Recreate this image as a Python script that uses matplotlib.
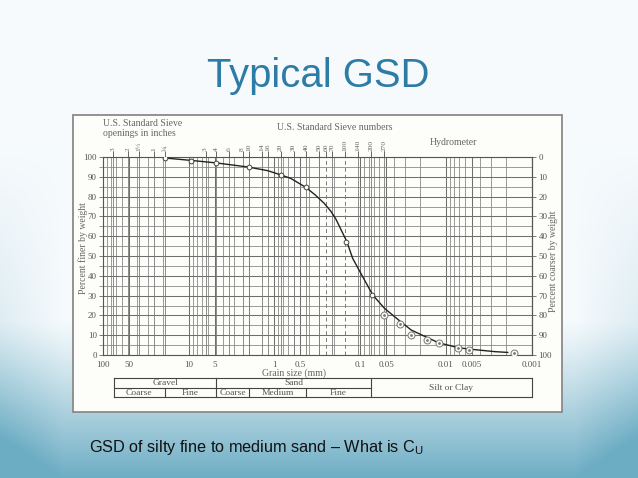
import numpy as np
import matplotlib
matplotlib.use("Agg")
import matplotlib.pyplot as plt
import matplotlib.transforms as mtransforms
from matplotlib.patches import Rectangle
from matplotlib.ticker import FixedLocator, LogLocator, MultipleLocator, NullFormatter

plt.rcParams['font.family'] = ['Liberation Serif', 'DejaVu Serif']
plt.rcParams['mathtext.fontset'] = 'custom'
plt.rcParams['mathtext.rm'] = 'Liberation Sans'
plt.rcParams['mathtext.it'] = 'Liberation Sans'

# ---------------- data ----------------
sieve_labels = ['3', '2', '1½', '1', '¾', '3', '4', '6', '8', '10', '14', '16',
                '20', '30', '40', '50', '60', '70', '100', '140', '200', '270']
sieve_sizes_mm = [76.2, 50.8, 38.1, 25.4, 19.05, 6.35, 4.75, 3.35, 2.36, 2.0, 1.4, 1.18,
                  0.85, 0.6, 0.425, 0.3, 0.25, 0.212, 0.15, 0.106, 0.075, 0.053]
dashed_sieves_mm = [0.25, 0.15]

curve_size_mm = [19.05, 9.5, 4.75, 2.0, 1.2, 0.85, 0.646, 0.425, 0.33, 0.263, 0.22, 0.192,
                 0.143, 0.1225, 0.0935, 0.0714, 0.0522, 0.0348, 0.0254, 0.0167, 0.0122,
                 0.0072, 0.0054, 0.0027, 0.0019]
curve_finer = [99.5, 98.3, 97.0, 94.9, 93.1, 91.0, 89.2, 84.5, 80.6, 76.6, 72.6, 68.6,
               57.2, 48.8, 39.5, 30.3, 23.6, 17.3, 12.6, 8.9, 6.2, 3.7, 3.0, 1.7, 1.3]

sieve_pt_size = [19.05, 9.5, 4.75, 2.0, 0.85, 0.425, 0.145, 0.072]
sieve_pt_finer = [99.5, 98.2, 96.9, 94.8, 91.0, 84.6, 57.2, 30.3]

hydro_size = [0.0522, 0.0348, 0.0254, 0.0167, 0.0122, 0.0072, 0.0054, 0.0016]
hydro_finer = [20.0, 15.5, 10.1, 7.6, 5.9, 3.4, 2.5, 0.8]

x_tick_values = [100, 50, 10, 5, 1, 0.5, 0.1, 0.05, 0.01, 0.005, 0.001]
x_tick_labels = ['100', '50', '10', '5', '1', '0.5', '0.1', '0.05', '0.01', '0.005', '0.001']
y_ticks = [0, 10, 20, 30, 40, 50, 60, 70, 80, 90, 100]

class_top = ['Gravel', 'Sand', 'Silt or Clay']
class_top_bounds = [75, 4.75, 0.075, 0.001]
class_bottom = ['Coarse', 'Fine', 'Coarse', 'Medium', 'Fine']
class_bottom_bounds = [75, 19, 4.75, 2.0, 0.425, 0.075]

# ---------------- figure ----------------
W, H = 638, 478
fig = plt.figure(figsize=(W / 100, H / 100), dpi=100)

# slide background
bg = fig.add_axes([0, 0, 1, 1], zorder=-5)
bg.axis('off')
yy = np.linspace(0, 1, H)[:, None]
xx = np.linspace(0, 1, W)[None, :]
white = np.array([0.965, 0.982, 0.99])
blue = np.array([0.43, 0.68, 0.77])
t = np.clip((yy * H - 320) / 158, 0, 1) ** 1.15
edge = (np.clip(np.abs(xx - 0.5) * 2 - 0.8, 0, 1) / 0.2) * np.clip((yy * H - 150) / 300, 0, 1) * 0.3
t = np.clip(t + edge, 0, 1)
img = white * (1 - t[..., None]) + blue * t[..., None]
bg.imshow(img, aspect='auto', extent=[0, 1, 0, 1])
bg.set_xlim(0, 1)
bg.set_ylim(0, 1)
bg.add_patch(Rectangle((73 / W, 1 - 412 / H), (562 - 73) / W, (412 - 115) / H,
                       transform=bg.transAxes, fc='#fdfdf9', ec='#8a8a8a', lw=1.3))

# title and caption
fig.text(318 / W, 1 - 87 / H, 'Typical GSD', ha='center', va='baseline',
         fontsize=28.8, color='#2d7ca6', family='Liberation Sans')
fig.text(89 / W, 1 - 452 / H, 'GSD of silty fine to medium sand – What is C$_{\\mathrm{U}}$',
         ha='left', va='baseline', fontsize=11.7, color='#111111', family='Liberation Sans')

# main chart axes
ax = fig.add_axes([103 / W, 1 - 355 / H, (531.7 - 103) / W, 198 / H], zorder=2)
ax.set_facecolor('none')
ax.set_xscale('log')
ax.set_xlim(100, 0.001)
ax.set_ylim(0, 100)

grid_c = '#8a8a8a'
ax.xaxis.set_major_locator(FixedLocator(x_tick_values))
ax.set_xticklabels(x_tick_labels)
ax.xaxis.set_minor_locator(LogLocator(base=10, subs=np.arange(1, 10), numticks=30))
ax.xaxis.set_minor_formatter(NullFormatter())
ax.yaxis.set_major_locator(FixedLocator(y_ticks))
ax.yaxis.set_minor_locator(MultipleLocator(5))
ax.grid(which='major', axis='both', color='#6e6e6e', lw=0.75)
ax.grid(which='minor', axis='both', color=grid_c, lw=0.6)
ax.tick_params(axis='x', which='both', length=0, pad=4, labelsize=6.5, labelcolor='#555555')
ax.tick_params(axis='y', which='major', length=3, width=0.6, color='#666666', pad=1.5,
               labelsize=6.5, labelcolor='#555555')
ax.tick_params(axis='y', which='minor', length=3, width=0.6, color='#888888')
for s in ax.spines.values():
    s.set_color('#555555')
    s.set_linewidth(0.8)

sec = ax.secondary_yaxis('right', functions=(lambda y: 100 - y, lambda y: 100 - y))
sec.yaxis.set_major_locator(FixedLocator(y_ticks))
sec.tick_params(length=3, width=0.6, color='#666666', pad=2, labelsize=6.5, labelcolor='#555555')
sec.spines['right'].set_color('#555555')
sec.spines['right'].set_linewidth(0.8)

# sieve lines
solid_sieves = [s for s in sieve_sizes_mm if s not in dashed_sieves_mm]
ax.vlines(solid_sieves, 0, 100, colors='#7a7a7a', lw=0.6)
ax.vlines(dashed_sieves_mm, 0, 100, colors='#7a7a7a', lw=0.7, linestyles=(0, (4, 3)))
ax.vlines(sieve_sizes_mm, 100, 103, colors='#666666', lw=0.7, clip_on=False)

blend = mtransforms.blended_transform_factory(ax.transData, ax.transAxes)
for s, lab in zip(sieve_sizes_mm, sieve_labels):
    ax.text(s, 1.03, lab, transform=blend, rotation=90, ha='center', va='bottom',
            fontsize=5.4, color='#666666')

# curve and points
ax.plot(curve_size_mm, curve_finer, color='#222222', lw=1.0, zorder=5)
ax.plot(sieve_pt_size, sieve_pt_finer, 'o', ms=3.4, mfc='#fdfdf9', mec='#444444', mew=0.7, zorder=6)
ax.plot(hydro_size, hydro_finer, 'o', ms=5, mfc='#fdfdf9', mec='#777777', mew=0.7, zorder=6)
ax.plot(hydro_size, hydro_finer, '.', ms=2, color='#777777', zorder=7)

# classification table below the axis
yt, ym, yb = -0.118, -0.165, -0.214
lc = '#444444'
kw = dict(transform=blend, color=lc, lw=0.8, clip_on=False)
ax.plot([class_top_bounds[0], class_top_bounds[-1]], [yt, yt], **kw)
ax.plot([class_top_bounds[0], class_top_bounds[-1]], [yb, yb], **kw)
ax.plot([class_bottom_bounds[0], class_bottom_bounds[-1]], [ym, ym], **kw)
for b in class_top_bounds:
    ax.plot([b, b], [yt, yb], **kw)
for b in class_bottom_bounds[1:-1]:
    if b not in class_top_bounds:
        ax.plot([b, b], [ym, yb], **kw)
for i, name in enumerate(class_top):
    xc = np.sqrt(class_top_bounds[i] * class_top_bounds[i + 1])
    yc = (yt + ym) / 2 if name != 'Silt or Clay' else (yt + yb) / 2
    ax.text(xc, yc, name, transform=blend, ha='center', va='center', fontsize=6.8, color='#555555')
for i, name in enumerate(class_bottom):
    xc = np.sqrt(class_bottom_bounds[i] * class_bottom_bounds[i + 1])
    ax.text(xc, (ym + yb) / 2, name, transform=blend, ha='center', va='center',
            fontsize=6.8, color='#555555')

# header and axis titles
tc = '#666666'
fig.text(103 / W, 1 - 124 / H, 'U.S. Standard Sieve', ha='left', va='center', fontsize=7, color=tc)
fig.text(103 / W, 1 - 134 / H, 'openings in inches', ha='left', va='center', fontsize=7, color=tc)
fig.text(277 / W, 1 - 128 / H, 'U.S. Standard Sieve numbers', ha='left', va='center', fontsize=7, color=tc)
fig.text(430 / W, 1 - 143 / H, 'Hydrometer', ha='left', va='center', fontsize=7, color=tc)
fig.text(83 / W, 1 - 248 / H, 'Percent finer by weight', ha='center', va='center',
         rotation=90, fontsize=7, color=tc)
fig.text(553 / W, 1 - 261 / H, 'Percent coarser by weight', ha='center', va='center',
         rotation=90, fontsize=7, color=tc)
fig.text(294 / W, 1 - 373 / H, 'Grain size (mm)', ha='center', va='center', fontsize=7, color=tc)

fig.savefig('out.png', dpi=100)
